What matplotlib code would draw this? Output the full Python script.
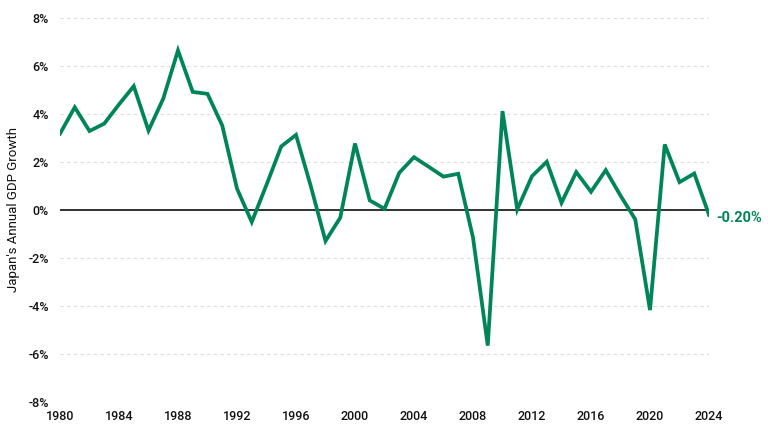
import matplotlib
matplotlib.use("Agg")
import matplotlib.pyplot as plt
from matplotlib.ticker import FuncFormatter

years = list(range(1980, 2025))
growth = [3.18, 4.28, 3.29, 3.6, 4.4, 5.16, 3.31, 4.64, 6.65, 4.92,
          4.84, 3.52, 0.89, -0.5, 1.05, 2.65, 3.13, 1.0, -1.29, -0.32,
          2.77, 0.4, 0.05, 1.55, 2.2, 1.8, 1.39, 1.51, -1.15, -5.65,
          4.12, 0.02, 1.41, 2.01, 0.3, 1.58, 0.76, 1.66, 0.6, -0.39,
          -4.17, 2.73, 1.16, 1.52, -0.2]
xticks = list(range(1980, 2025, 4))
yticks = [-8, -6, -4, -2, 0, 2, 4, 6, 8]
last_label = "-0.20%"

GREEN = "#00855a"
plt.rcParams['font.family'] = ['Roboto', 'DejaVu Sans']

fig = plt.figure(figsize=(7.68, 4.33), dpi=100)
ax = fig.add_axes([60/768, 1-402/433, (709-60)/768, (402-18)/433])

ax.plot(years, growth, color=GREEN, lw=2.7, solid_joinstyle='miter', zorder=3)
ax.axhline(0, color='#222222', lw=1.3, zorder=2)

ax.set_xlim(1980, 2024)
ax.set_ylim(-8, 8)
ax.set_xticks(xticks)
ax.set_yticks(yticks)
ax.yaxis.set_major_formatter(FuncFormatter(lambda v, p: f"{int(v)}%"))
ax.grid(axis='y', color='#dddddd', lw=0.8, ls=(0, (3, 3)))
ax.set_axisbelow(True)
for s in ax.spines.values():
    s.set_visible(False)
ax.tick_params(axis='both', length=0, labelsize=9, colors='#111111')
for lab in ax.get_xticklabels() + ax.get_yticklabels():
    lab.set_fontweight('medium')
ax.tick_params(axis='x', pad=6)
ax.tick_params(axis='y', pad=8)
ax.set_ylabel("Japan's Annual GDP Growth", fontsize=9.5, color='#111111', labelpad=6)

ax.annotate(last_label, xy=(years[-1], growth[-1]), xytext=(5, -2),
            textcoords='offset points', color=GREEN, fontsize=10.5,
            fontweight='bold', va='center', ha='left', annotation_clip=False)

fig.savefig("out.png", dpi=100)
